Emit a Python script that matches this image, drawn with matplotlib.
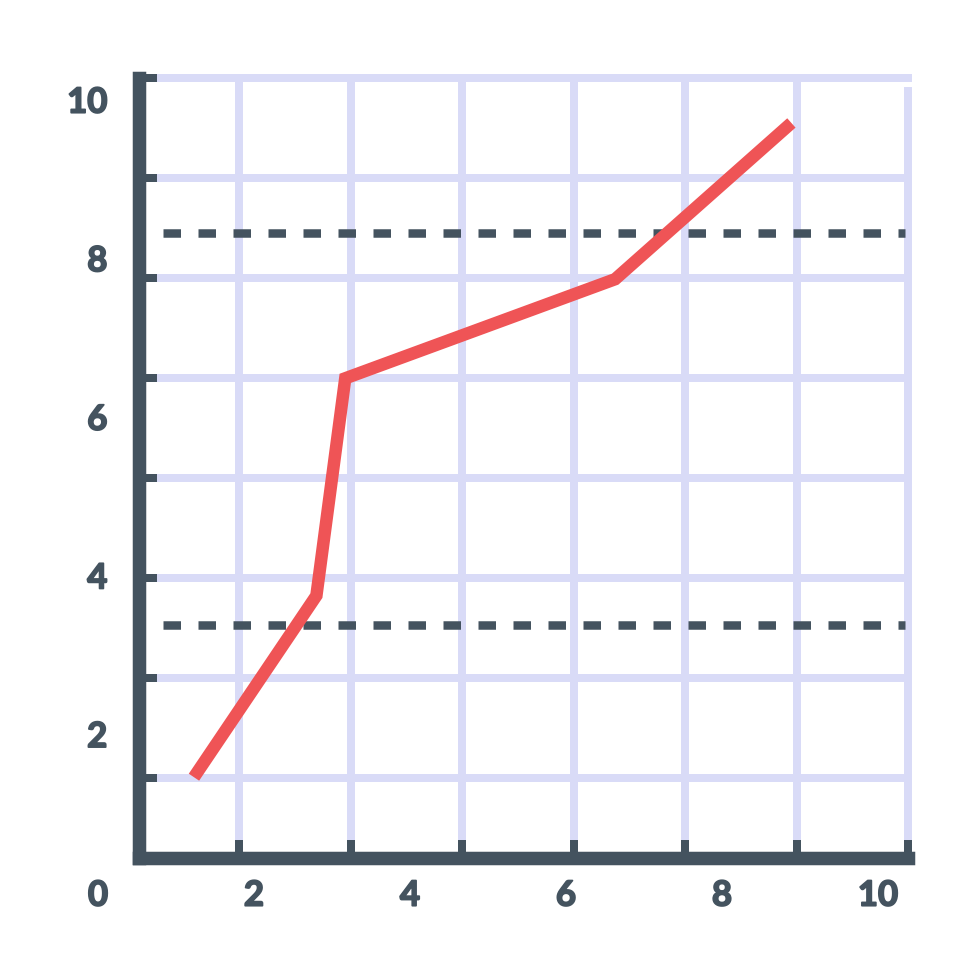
import numpy as np
import matplotlib
matplotlib.use("Agg")
import matplotlib.pyplot as plt
import matplotlib.patheffects as pe

# data (in tick-label units)
line_x = [1.23, 2.80, 3.17, 6.63, 8.89]
line_y = [1.46, 3.75, 6.49, 7.74, 9.71]
dash_levels = [8.32, 3.38]
tick_values = [2, 4, 6, 8, 10]

DARK = "#44535f"
GRID = "#d9dbf7"
RED = "#ef5456"
PT = 0.72  # points per pixel at dpi 100

plt.rcParams["font.family"] = ["Lato", "DejaVu Sans"]
plt.rcParams["font.weight"] = "bold"
plt.rcParams["lines.scale_dashes"] = False

fig = plt.figure(figsize=(9.8, 9.8), dpi=100)
# axes box: left spine centre 138.5px, right gridline 908px, bottom spine 858px, top gridline 78px
ax = fig.add_axes([138.5 / 980, 122 / 980, 769.5 / 980, 780 / 980])
xlim = (0.519, 10.385)
ylim = (0.441, 10.277)
ax.set_xlim(*xlim)
ax.set_ylim(*ylim)

# background grid (7 columns, 8 rows, not aligned to the labels)
grid_x = np.linspace(1.808, xlim[1], 7)
grid_y = np.linspace(1.450, ylim[1], 8)
ax.hlines(grid_y, xlim[0], xlim[1], color=GRID, lw=8 * PT,
          capstyle="projecting", zorder=1, clip_on=False)
ax.vlines(grid_x[:-1], ylim[0], ylim[1], color=GRID, lw=8 * PT,
          capstyle="butt", zorder=1, clip_on=False)
ax.vlines(grid_x[-1:], ylim[0], 10.164, color=GRID, lw=8 * PT,
          capstyle="butt", zorder=1, clip_on=False)

# dashed reference levels
for lvl in dash_levels:
    ax.axhline(lvl, xmin=0.032, xmax=0.996, color=DARK, lw=8.5 * PT,
               linestyle=(0, (17.5 * PT, 17.5 * PT)), dash_capstyle="butt",
               zorder=2)

# main series
ax.plot(line_x, line_y, color=RED, lw=12.5 * PT, solid_joinstyle="miter",
        solid_capstyle="butt", zorder=3)

# spines and tick stubs
for side in ("top", "right"):
    ax.spines[side].set_visible(False)
for side in ("left", "bottom"):
    ax.spines[side].set_color(DARK)
    ax.spines[side].set_linewidth(13.5 * PT)
    ax.spines[side].set_capstyle("projecting")
ax.set_xticks(grid_x)
ax.set_yticks(grid_y)
ax.tick_params(direction="in", length=18 * PT, width=8 * PT, color=DARK,
               labelbottom=False, labelleft=False)

# tick labels, placed in label units (slightly stroked to look heavier)
heavy = [pe.withStroke(linewidth=1.3, foreground=DARK)]
txt = dict(color=DARK, fontsize=25, fontweight="bold", clip_on=False,
           path_effects=heavy)
ax.text(0, -0.16, "0", ha="center", va="baseline", **txt)
for v in tick_values:
    ax.text(v, -0.16, str(v), ha="center", va="baseline", **txt)
    ax.text(0.12, v - 0.16, str(v), ha="right", va="baseline", **txt)

fig.savefig("out.png", dpi=100, facecolor="white")
